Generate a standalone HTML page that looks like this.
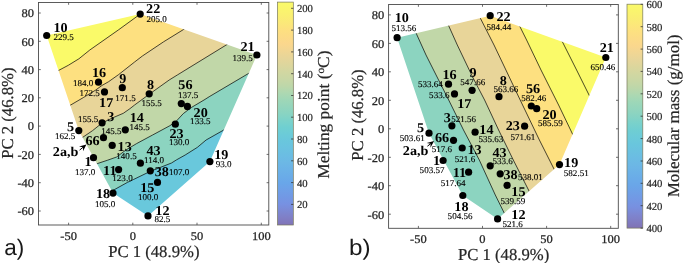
<!DOCTYPE html>
<html lang="en"><head><meta charset="utf-8"><title>PCA contour plots</title>
<style>html,body{margin:0;padding:0;background:#fff}body{width:685px;height:263px;overflow:hidden}svg{display:block}</style>
</head><body>
<svg width="685" height="263" viewBox="0 0 685 263" font-family="'Liberation Serif', serif" fill="#000" text-rendering="geometricPrecision">
<rect width="685" height="263" fill="#fff"/>
<defs></defs>
<rect x="0" y="0" width="343" height="263" fill="#fafa69"/>
<polygon points="172.6,-9.4 140.2,14.1 118.3,30.0 89.8,50.0 78.9,58.8 68.3,65.3 58.3,70.6 23.0,89.3 23.0,600.0 900.0,600.0 900.0,-9.4" fill="#fde080"/>
<polygon points="218.2,8.1 184.2,29.1 163.6,41.8 142.4,56.0 134.6,62.0 118.6,74.6 108.6,81.7 101.9,85.5 95.3,90.3 83.3,97.6 70.0,105.4 35.5,125.6 35.5,600.0 900.0,600.0 900.0,8.1" fill="#e8d599"/>
<polygon points="261.3,23.5 227.2,44.4 177.3,75.0 169.2,80.0 149.3,94.2 134.6,105.0 129.9,108.7 123.3,113.3 113.9,117.3 102.2,122.9 92.6,130.6 82.6,137.4 49.5,159.9 49.5,600.0 900.0,600.0 900.0,23.5" fill="#c1d7a8"/>
<polygon points="283.2,52.9 248.8,73.3 209.9,96.3 204.0,100.0 191.2,107.6 183.3,113.6 175.9,121.6 169.9,125.7 152.6,135.0 136.6,143.6 125.9,150.0 116.6,157.0 107.3,160.3 97.3,163.6 59.3,176.1 59.3,600.0 900.0,600.0 900.0,52.9" fill="#8cd4c0"/>
<polygon points="258.4,110.4 223.6,130.1 206.1,140.0 197.3,147.4 185.2,155.0 176.6,159.8 171.5,163.0 150.4,171.3 133.3,179.6 127.6,182.3 114.6,189.5 111.8,191.0 76.5,209.9 76.5,600.0 900.0,600.0 900.0,110.4" fill="#69c8dc"/>
<polyline points="172.6,-9.4 140.2,14.1 118.3,30.0 89.8,50.0 78.9,58.8 68.3,65.3 58.3,70.6 23.0,89.3" fill="none" stroke="#000" stroke-width="0.7"/>
<polyline points="218.2,8.1 184.2,29.1 163.6,41.8 142.4,56.0 134.6,62.0 118.6,74.6 108.6,81.7 101.9,85.5 95.3,90.3 83.3,97.6 70.0,105.4 35.5,125.6" fill="none" stroke="#000" stroke-width="0.7"/>
<polyline points="261.3,23.5 227.2,44.4 177.3,75.0 169.2,80.0 149.3,94.2 134.6,105.0 129.9,108.7 123.3,113.3 113.9,117.3 102.2,122.9 92.6,130.6 82.6,137.4 49.5,159.9" fill="none" stroke="#000" stroke-width="0.7"/>
<polyline points="283.2,52.9 248.8,73.3 209.9,96.3 204.0,100.0 191.2,107.6 183.3,113.6 175.9,121.6 169.9,125.7 152.6,135.0 136.6,143.6 125.9,150.0 116.6,157.0 107.3,160.3 97.3,163.6 59.3,176.1" fill="none" stroke="#000" stroke-width="0.7"/>
<polyline points="258.4,110.4 223.6,130.1 206.1,140.0 197.3,147.4 185.2,155.0 176.6,159.8 171.5,163.0 150.4,171.3 133.3,179.6 127.6,182.3 114.6,189.5 111.8,191.0 76.5,209.9" fill="none" stroke="#000" stroke-width="0.7"/>
<path d="M0 0H343V263H0ZM46.7 35.5L140.2 14.1L256.9 55.0L209.9 161.6L148.0 215.9L113.0 193.1L78.8 130.6Z" fill="#fff" fill-rule="evenodd"/>
<rect x="38.5" y="2.5" width="230.3" height="222.5" fill="none" stroke="#4a4a4a" stroke-width="0.9"/>
<path d="M68.6 225.0v-2.3M68.6 2.5v2.3M132.8 225.0v-2.3M132.8 2.5v2.3M197.0 225.0v-2.3M197.0 2.5v2.3M261.3 225.0v-2.3M261.3 2.5v2.3M38.5 13.0h2.3M268.9 13.0h-2.3M38.5 41.3h2.3M268.9 41.3h-2.3M38.5 69.6h2.3M268.9 69.6h-2.3M38.5 97.8h2.3M268.9 97.8h-2.3M38.5 126.1h2.3M268.9 126.1h-2.3M38.5 154.4h2.3M268.9 154.4h-2.3M38.5 182.7h2.3M268.9 182.7h-2.3M38.5 211.0h2.3M268.9 211.0h-2.3" stroke="#4a4a4a" stroke-width="0.8" fill="none"/>
<text transform="translate(68.6,240.0) scale(1.06,1)" text-anchor="middle" font-size="11.8" fill="#262626" stroke="#262626" stroke-width="0.25">-50</text>
<text transform="translate(132.8,240.0) scale(1.06,1)" text-anchor="middle" font-size="11.8" fill="#262626" stroke="#262626" stroke-width="0.25">0</text>
<text transform="translate(197.0,240.0) scale(1.06,1)" text-anchor="middle" font-size="11.8" fill="#262626" stroke="#262626" stroke-width="0.25">50</text>
<text transform="translate(261.3,240.0) scale(1.06,1)" text-anchor="middle" font-size="11.8" fill="#262626" stroke="#262626" stroke-width="0.25">100</text>
<text transform="translate(34.1,17.3) scale(1.06,1)" text-anchor="end" font-size="11.8" fill="#262626" stroke="#262626" stroke-width="0.25">80</text>
<text transform="translate(34.1,45.6) scale(1.06,1)" text-anchor="end" font-size="11.8" fill="#262626" stroke="#262626" stroke-width="0.25">60</text>
<text transform="translate(34.1,73.9) scale(1.06,1)" text-anchor="end" font-size="11.8" fill="#262626" stroke="#262626" stroke-width="0.25">40</text>
<text transform="translate(34.1,102.1) scale(1.06,1)" text-anchor="end" font-size="11.8" fill="#262626" stroke="#262626" stroke-width="0.25">20</text>
<text transform="translate(34.1,130.4) scale(1.06,1)" text-anchor="end" font-size="11.8" fill="#262626" stroke="#262626" stroke-width="0.25">0</text>
<text transform="translate(34.1,158.7) scale(1.06,1)" text-anchor="end" font-size="11.8" fill="#262626" stroke="#262626" stroke-width="0.25">-20</text>
<text transform="translate(34.1,187.0) scale(1.06,1)" text-anchor="end" font-size="11.8" fill="#262626" stroke="#262626" stroke-width="0.25">-40</text>
<text transform="translate(34.1,215.3) scale(1.06,1)" text-anchor="end" font-size="11.8" fill="#262626" stroke="#262626" stroke-width="0.25">-60</text>
<circle cx="46.7" cy="35.5" r="3.6"/>
<circle cx="140.2" cy="14.1" r="3.6"/>
<circle cx="256.9" cy="55.0" r="3.6"/>
<circle cx="98.5" cy="82.2" r="3.6"/>
<circle cx="104.5" cy="91.9" r="3.6"/>
<circle cx="122.3" cy="87.7" r="3.6"/>
<circle cx="149.2" cy="93.8" r="3.6"/>
<circle cx="181.3" cy="103.6" r="3.6"/>
<circle cx="187.4" cy="106.4" r="3.6"/>
<circle cx="78.8" cy="130.6" r="3.6"/>
<circle cx="102.1" cy="122.8" r="3.6"/>
<circle cx="125.3" cy="129.8" r="3.6"/>
<circle cx="103.5" cy="137.7" r="3.6"/>
<circle cx="112.2" cy="145.4" r="3.6"/>
<circle cx="175.3" cy="124.2" r="3.6"/>
<circle cx="93.5" cy="157.7" r="3.6"/>
<circle cx="118.6" cy="169.6" r="3.6"/>
<circle cx="140.4" cy="163.2" r="3.6"/>
<circle cx="150.3" cy="170.8" r="3.6"/>
<circle cx="157.5" cy="182.4" r="3.6"/>
<circle cx="209.9" cy="161.6" r="3.6"/>
<circle cx="113.0" cy="193.1" r="3.6"/>
<circle cx="148.0" cy="215.9" r="3.6"/>
<g font-weight="bold" font-size="13.5">
<text transform="translate(53.4,31.8) scale(1.050,1)">10</text>
<text transform="translate(146.1,13.1) scale(1.050,1)">22</text>
<text transform="translate(240.5,51.2) scale(1.050,1)">21</text>
<text transform="translate(92.0,77.2) scale(1.050,1)">16</text>
<text transform="translate(99.1,107.2) scale(1.050,1)">17</text>
<text transform="translate(119.2,82.8) scale(1.050,1)">9</text>
<text transform="translate(147.0,88.9) scale(1.050,1)">8</text>
<text transform="translate(178.3,89.3) scale(1.050,1)">56</text>
<text transform="translate(193.6,117.0) scale(1.050,1)">20</text>
<text transform="translate(169.4,137.9) scale(1.050,1)">23</text>
<text transform="translate(107.2,121.4) scale(1.050,1)">3</text>
<text transform="translate(129.7,121.8) scale(1.050,1)">14</text>
<text transform="translate(66.9,130.8) scale(1.050,1)">5</text>
<text transform="translate(85.4,145.0) scale(1.050,1)">66</text>
<text transform="translate(117.6,150.5) scale(1.050,1)">13</text>
<text transform="translate(52.8,156.1) scale(1.050,1)">2a,b</text>
<text transform="translate(84.4,166.4) scale(1.050,1)">1</text>
<text transform="translate(103.1,174.6) scale(1.050,1)">11</text>
<text transform="translate(146.4,155.1) scale(1.050,1)">43</text>
<text transform="translate(154.7,176.3) scale(1.050,1)">38</text>
<text transform="translate(140.2,192.1) scale(1.050,1)">15</text>
<text transform="translate(214.2,159.0) scale(1.050,1)">19</text>
<text transform="translate(95.9,198.1) scale(1.050,1)">18</text>
<text transform="translate(155.3,214.8) scale(1.050,1)">12</text>
</g><g font-size="8.9" stroke="#000" stroke-width="0.12">
<text transform="translate(53.5,40.3) scale(1.020,1)">229.5</text>
<text transform="translate(146.4,21.8) scale(1.020,1)">205.0</text>
<text transform="translate(232.4,60.5) scale(1.020,1)">139.5</text>
<text transform="translate(73.0,85.7) scale(1.020,1)">184.0</text>
<text transform="translate(79.5,95.9) scale(1.020,1)">172.5</text>
<text transform="translate(115.3,101.1) scale(1.020,1)">171.5</text>
<text transform="translate(141.5,106.1) scale(1.020,1)">155.5</text>
<text transform="translate(178.0,97.9) scale(1.020,1)">137.5</text>
<text transform="translate(190.1,124.3) scale(1.020,1)">133.5</text>
<text transform="translate(168.9,145.3) scale(1.020,1)">130.0</text>
<text transform="translate(78.0,121.9) scale(1.020,1)">155.5</text>
<text transform="translate(129.4,129.8) scale(1.020,1)">145.5</text>
<text transform="translate(54.9,139.3) scale(1.020,1)">162.5</text>
<text transform="translate(101.2,134.0) scale(1.020,1)">145.5</text>
<text transform="translate(116.3,158.8) scale(1.020,1)">140.5</text>
<text transform="translate(75.0,174.7) scale(1.020,1)">137.0</text>
<text transform="translate(112.3,180.7) scale(1.020,1)">123.0</text>
<text transform="translate(144.1,162.9) scale(1.020,1)">114.0</text>
<text transform="translate(168.9,175.3) scale(1.020,1)">107.0</text>
<text transform="translate(137.9,199.6) scale(1.020,1)">100.0</text>
<text transform="translate(215.7,166.9) scale(1.020,1)">93.0</text>
<text transform="translate(95.0,206.8) scale(1.020,1)">105.0</text>
<text transform="translate(154.4,222.4) scale(1.020,1)">82.5</text>
</g>
<path d="M79.6 150.1L83.0 147.3" stroke="#000" stroke-width="1"/><polygon points="86.4,144.5 83.0,151.3 83.0,147.3 79.0,146.6"/>
<linearGradient id="ga" x1="0" y1="0" x2="0" y2="1"><stop offset="0.0000" stop-color="#fafa69"/><stop offset="0.0312" stop-color="#faf56d"/><stop offset="0.0625" stop-color="#faef72"/><stop offset="0.0938" stop-color="#fbe879"/><stop offset="0.1250" stop-color="#fde080"/><stop offset="0.1562" stop-color="#fcdb86"/><stop offset="0.1875" stop-color="#fbd78d"/><stop offset="0.2188" stop-color="#f1d693"/><stop offset="0.2500" stop-color="#e7d599"/><stop offset="0.2812" stop-color="#ddd69d"/><stop offset="0.3125" stop-color="#d2d7a1"/><stop offset="0.3438" stop-color="#c9d7a5"/><stop offset="0.3750" stop-color="#bed7a9"/><stop offset="0.4062" stop-color="#aed8b1"/><stop offset="0.4375" stop-color="#9fd7b7"/><stop offset="0.4688" stop-color="#94d5bc"/><stop offset="0.5000" stop-color="#89d4c2"/><stop offset="0.5312" stop-color="#7bd2ca"/><stop offset="0.5625" stop-color="#6fcfd1"/><stop offset="0.5938" stop-color="#6bcbd8"/><stop offset="0.6250" stop-color="#69c6dd"/><stop offset="0.6562" stop-color="#6ac2e0"/><stop offset="0.6875" stop-color="#6bbde3"/><stop offset="0.7188" stop-color="#6cb8e5"/><stop offset="0.7500" stop-color="#6bb2e7"/><stop offset="0.7812" stop-color="#6aace8"/><stop offset="0.8125" stop-color="#69a6e9"/><stop offset="0.8438" stop-color="#6e9fe7"/><stop offset="0.8750" stop-color="#7298e4"/><stop offset="0.9062" stop-color="#7791e2"/><stop offset="0.9375" stop-color="#7c88d3"/><stop offset="0.9688" stop-color="#807ec5"/><stop offset="1.0000" stop-color="#8074b7"/></linearGradient>
<rect x="277.5" y="2.1" width="15.8" height="222.9" fill="url(#ga)" stroke="#77775a" stroke-width="0.7"/>
<path d="M293.3 8.3h-2.2M293.3 30.1h-2.2M293.3 51.9h-2.2M293.3 73.7h-2.2M293.3 95.5h-2.2M293.3 117.2h-2.2M293.3 139.0h-2.2M293.3 160.8h-2.2M293.3 182.6h-2.2M293.3 204.4h-2.2" stroke="#333" stroke-width="0.8" fill="none"/>
<text x="296.9" y="12.2" font-size="10.7" fill="#262626" stroke="#262626" stroke-width="0.2">200</text>
<text x="296.9" y="34.0" font-size="10.7" fill="#262626" stroke="#262626" stroke-width="0.2">180</text>
<text x="296.9" y="55.8" font-size="10.7" fill="#262626" stroke="#262626" stroke-width="0.2">160</text>
<text x="296.9" y="77.6" font-size="10.7" fill="#262626" stroke="#262626" stroke-width="0.2">140</text>
<text x="296.9" y="99.4" font-size="10.7" fill="#262626" stroke="#262626" stroke-width="0.2">120</text>
<text x="296.9" y="121.1" font-size="10.7" fill="#262626" stroke="#262626" stroke-width="0.2">100</text>
<text x="296.9" y="142.9" font-size="10.7" fill="#262626" stroke="#262626" stroke-width="0.2">80</text>
<text x="296.9" y="164.7" font-size="10.7" fill="#262626" stroke="#262626" stroke-width="0.2">60</text>
<text x="296.9" y="186.5" font-size="10.7" fill="#262626" stroke="#262626" stroke-width="0.2">40</text>
<text x="296.9" y="208.3" font-size="10.7" fill="#262626" stroke="#262626" stroke-width="0.2">20</text>
<rect x="343" y="0" width="342" height="263" fill="#8cd4c0"/>
<polygon points="399.5,-3.5 416.0,32.9 426.0,55.0 438.6,80.0 448.7,100.0 463.5,130.0 479.3,160.0 495.3,195.0 504.3,213.2 522.0,249.1 1200.0,249.1 1200.0,-3.5" fill="#c1d7a8"/>
<polygon points="432.2,-10.9 448.6,25.6 457.3,45.0 472.6,77.0 484.6,100.0 498.6,130.0 513.3,160.0 529.2,191.3 547.3,227.0 1200.0,227.0 1200.0,-10.9" fill="#e8d599"/>
<polygon points="462.2,-17.3 480.4,18.3 494.0,45.0 520.2,100.0 539.4,140.0 554.1,169.2 572.1,204.9 1200.0,204.9 1200.0,-17.3" fill="#fde080"/>
<polygon points="502.0,-9.2 519.9,26.6 526.6,40.0 541.0,70.0 558.6,105.0 572.6,134.2 589.9,170.3 1200.0,170.3 1200.0,-9.2" fill="#fafa69"/>
<polygon points="544.3,5.9 562.3,41.6 576.6,70.0 589.2,95.3 607.0,131.1 1200.0,131.1 1200.0,5.9" fill="#fafa69"/>
<polyline points="399.5,-3.5 416.0,32.9 426.0,55.0 438.6,80.0 448.7,100.0 463.5,130.0 479.3,160.0 495.3,195.0 504.3,213.2 522.0,249.1" fill="none" stroke="#000" stroke-width="0.7"/>
<polyline points="432.2,-10.9 448.6,25.6 457.3,45.0 472.6,77.0 484.6,100.0 498.6,130.0 513.3,160.0 529.2,191.3 547.3,227.0" fill="none" stroke="#000" stroke-width="0.7"/>
<polyline points="462.2,-17.3 480.4,18.3 494.0,45.0 520.2,100.0 539.4,140.0 554.1,169.2 572.1,204.9" fill="none" stroke="#000" stroke-width="0.7"/>
<polyline points="502.0,-9.2 519.9,26.6 526.6,40.0 541.0,70.0 558.6,105.0 572.6,134.2 589.9,170.3" fill="none" stroke="#000" stroke-width="0.7"/>
<polyline points="544.3,5.9 562.3,41.6 576.6,70.0 589.2,95.3 607.0,131.1" fill="none" stroke="#000" stroke-width="0.7"/>
<path d="M343 0H685V263H343ZM397.1 37.7L490.2 15.7L605.8 57.5L559.5 164.6L497.6 218.9L462.8 195.5L429.0 133.2Z" fill="#fff" fill-rule="evenodd"/>
<rect x="388.6" y="4.5" width="229.7" height="223.8" fill="none" stroke="#4a4a4a" stroke-width="0.9"/>
<path d="M418.4 228.2v-2.3M418.4 4.5v2.3M482.5 228.2v-2.3M482.5 4.5v2.3M546.6 228.2v-2.3M546.6 4.5v2.3M610.7 228.2v-2.3M610.7 4.5v2.3M388.6 14.9h2.3M618.3 14.9h-2.3M388.6 43.4h2.3M618.3 43.4h-2.3M388.6 71.8h2.3M618.3 71.8h-2.3M388.6 100.3h2.3M618.3 100.3h-2.3M388.6 128.8h2.3M618.3 128.8h-2.3M388.6 157.3h2.3M618.3 157.3h-2.3M388.6 185.7h2.3M618.3 185.7h-2.3M388.6 214.2h2.3M618.3 214.2h-2.3" stroke="#4a4a4a" stroke-width="0.8" fill="none"/>
<text transform="translate(418.4,243.2) scale(1.06,1)" text-anchor="middle" font-size="11.8" fill="#262626" stroke="#262626" stroke-width="0.25">-50</text>
<text transform="translate(482.5,243.2) scale(1.06,1)" text-anchor="middle" font-size="11.8" fill="#262626" stroke="#262626" stroke-width="0.25">0</text>
<text transform="translate(546.6,243.2) scale(1.06,1)" text-anchor="middle" font-size="11.8" fill="#262626" stroke="#262626" stroke-width="0.25">50</text>
<text transform="translate(610.7,243.2) scale(1.06,1)" text-anchor="middle" font-size="11.8" fill="#262626" stroke="#262626" stroke-width="0.25">100</text>
<text transform="translate(384.2,19.2) scale(1.06,1)" text-anchor="end" font-size="11.8" fill="#262626" stroke="#262626" stroke-width="0.25">80</text>
<text transform="translate(384.2,47.7) scale(1.06,1)" text-anchor="end" font-size="11.8" fill="#262626" stroke="#262626" stroke-width="0.25">60</text>
<text transform="translate(384.2,76.1) scale(1.06,1)" text-anchor="end" font-size="11.8" fill="#262626" stroke="#262626" stroke-width="0.25">40</text>
<text transform="translate(384.2,104.6) scale(1.06,1)" text-anchor="end" font-size="11.8" fill="#262626" stroke="#262626" stroke-width="0.25">20</text>
<text transform="translate(384.2,133.1) scale(1.06,1)" text-anchor="end" font-size="11.8" fill="#262626" stroke="#262626" stroke-width="0.25">0</text>
<text transform="translate(384.2,161.6) scale(1.06,1)" text-anchor="end" font-size="11.8" fill="#262626" stroke="#262626" stroke-width="0.25">-20</text>
<text transform="translate(384.2,190.0) scale(1.06,1)" text-anchor="end" font-size="11.8" fill="#262626" stroke="#262626" stroke-width="0.25">-40</text>
<text transform="translate(384.2,218.5) scale(1.06,1)" text-anchor="end" font-size="11.8" fill="#262626" stroke="#262626" stroke-width="0.25">-60</text>
<circle cx="397.1" cy="37.7" r="3.6"/>
<circle cx="490.2" cy="15.7" r="3.6"/>
<circle cx="605.8" cy="57.5" r="3.6"/>
<circle cx="448.5" cy="84.2" r="3.6"/>
<circle cx="454.5" cy="93.9" r="3.6"/>
<circle cx="472.1" cy="90.3" r="3.6"/>
<circle cx="499.0" cy="96.7" r="3.6"/>
<circle cx="531.3" cy="106.0" r="3.6"/>
<circle cx="536.7" cy="108.7" r="3.6"/>
<circle cx="429.0" cy="133.2" r="3.6"/>
<circle cx="451.9" cy="125.8" r="3.6"/>
<circle cx="475.1" cy="132.2" r="3.6"/>
<circle cx="453.5" cy="140.3" r="3.6"/>
<circle cx="462.2" cy="148.0" r="3.6"/>
<circle cx="524.6" cy="126.2" r="3.6"/>
<circle cx="443.1" cy="160.5" r="3.6"/>
<circle cx="468.6" cy="172.2" r="3.6"/>
<circle cx="490.2" cy="165.8" r="3.6"/>
<circle cx="500.2" cy="173.8" r="3.6"/>
<circle cx="507.1" cy="185.3" r="3.6"/>
<circle cx="559.5" cy="164.6" r="3.6"/>
<circle cx="462.8" cy="195.5" r="3.6"/>
<circle cx="497.6" cy="218.9" r="3.6"/>
<g font-weight="bold" font-size="13.5">
<text transform="translate(394.7,22.2) scale(1.050,1)">10</text>
<text transform="translate(496.4,20.5) scale(1.050,1)">22</text>
<text transform="translate(599.7,52.4) scale(1.050,1)">21</text>
<text transform="translate(442.5,78.9) scale(1.050,1)">16</text>
<text transform="translate(457.2,108.2) scale(1.050,1)">17</text>
<text transform="translate(469.6,77.2) scale(1.050,1)">9</text>
<text transform="translate(499.8,85.0) scale(1.050,1)">8</text>
<text transform="translate(525.9,93.4) scale(1.050,1)">56</text>
<text transform="translate(542.4,118.6) scale(1.050,1)">20</text>
<text transform="translate(505.7,129.7) scale(1.050,1)">23</text>
<text transform="translate(443.7,121.9) scale(1.050,1)">3</text>
<text transform="translate(479.3,133.9) scale(1.050,1)">14</text>
<text transform="translate(416.9,132.4) scale(1.050,1)">5</text>
<text transform="translate(435.0,142.0) scale(1.050,1)">66</text>
<text transform="translate(467.4,153.5) scale(1.050,1)">13</text>
<text transform="translate(402.8,155.4) scale(1.050,1)">2a,b</text>
<text transform="translate(433.0,164.7) scale(1.050,1)">1</text>
<text transform="translate(452.7,177.3) scale(1.050,1)">11</text>
<text transform="translate(492.4,156.5) scale(1.050,1)">43</text>
<text transform="translate(503.4,178.8) scale(1.050,1)">38</text>
<text transform="translate(511.3,195.8) scale(1.050,1)">15</text>
<text transform="translate(564.1,167.3) scale(1.050,1)">19</text>
<text transform="translate(454.3,210.7) scale(1.050,1)">18</text>
<text transform="translate(511.3,219.4) scale(1.050,1)">12</text>
</g><g font-size="8.9" stroke="#000" stroke-width="0.12">
<text transform="translate(391.4,31.2) scale(1.020,1)">513.56</text>
<text transform="translate(486.5,30.2) scale(1.020,1)">584.44</text>
<text transform="translate(590.4,70.2) scale(1.020,1)">650.46</text>
<text transform="translate(418.0,86.9) scale(1.020,1)">533.64</text>
<text transform="translate(429.1,97.6) scale(1.020,1)">533.6</text>
<text transform="translate(460.3,85.2) scale(1.020,1)">547.66</text>
<text transform="translate(493.4,92.4) scale(1.020,1)">563.66</text>
<text transform="translate(521.3,101.4) scale(1.020,1)">582.46</text>
<text transform="translate(538.0,126.2) scale(1.020,1)">585.59</text>
<text transform="translate(510.4,139.9) scale(1.020,1)">571.61</text>
<text transform="translate(451.2,122.2) scale(1.020,1)">521.56</text>
<text transform="translate(399.8,140.7) scale(1.020,1)">503.61</text>
<text transform="translate(478.4,141.9) scale(1.020,1)">535.63</text>
<text transform="translate(431.7,152.1) scale(1.020,1)">517.6</text>
<text transform="translate(454.8,162.2) scale(1.020,1)">521.6</text>
<text transform="translate(419.6,172.7) scale(1.020,1)">503.57</text>
<text transform="translate(440.7,185.9) scale(1.020,1)">517.64</text>
<text transform="translate(492.5,164.2) scale(1.020,1)">533.6</text>
<text transform="translate(517.9,179.9) scale(1.020,1)">538.01</text>
<text transform="translate(500.4,204.2) scale(1.020,1)">539.59</text>
<text transform="translate(563.8,175.9) scale(1.020,1)">582.51</text>
<text transform="translate(447.6,219.0) scale(1.020,1)">504.56</text>
<text transform="translate(502.4,227.3) scale(1.020,1)">521.6</text>
</g>
<path d="M427.4 146.2L430.6 143.8" stroke="#000" stroke-width="1"/><polygon points="434.1,141.1 430.4,147.8 430.6,143.8 426.7,142.9"/>
<linearGradient id="gb" x1="0" y1="0" x2="0" y2="1"><stop offset="0.0000" stop-color="#fafa69"/><stop offset="0.0312" stop-color="#faf46e"/><stop offset="0.0625" stop-color="#faee73"/><stop offset="0.0938" stop-color="#fce77a"/><stop offset="0.1250" stop-color="#fde081"/><stop offset="0.1562" stop-color="#fcdb87"/><stop offset="0.1875" stop-color="#fad78d"/><stop offset="0.2188" stop-color="#f0d694"/><stop offset="0.2500" stop-color="#e6d59a"/><stop offset="0.2812" stop-color="#dbd69d"/><stop offset="0.3125" stop-color="#d1d7a1"/><stop offset="0.3438" stop-color="#c8d7a5"/><stop offset="0.3750" stop-color="#bcd7aa"/><stop offset="0.4062" stop-color="#acd8b2"/><stop offset="0.4375" stop-color="#9dd7b8"/><stop offset="0.4688" stop-color="#93d5bd"/><stop offset="0.5000" stop-color="#87d3c3"/><stop offset="0.5312" stop-color="#79d1cb"/><stop offset="0.5625" stop-color="#6fced2"/><stop offset="0.5938" stop-color="#6bcad9"/><stop offset="0.6250" stop-color="#69c6dd"/><stop offset="0.6562" stop-color="#6ac1e0"/><stop offset="0.6875" stop-color="#6bbce3"/><stop offset="0.7188" stop-color="#6cb7e5"/><stop offset="0.7500" stop-color="#6bb1e7"/><stop offset="0.7812" stop-color="#6aabe8"/><stop offset="0.8125" stop-color="#6aa5e8"/><stop offset="0.8438" stop-color="#6f9ee6"/><stop offset="0.8750" stop-color="#7397e4"/><stop offset="0.9062" stop-color="#7890e0"/><stop offset="0.9375" stop-color="#7d86d1"/><stop offset="0.9688" stop-color="#807dc3"/><stop offset="1.0000" stop-color="#8072b4"/></linearGradient>
<rect x="627.0" y="4.2" width="15.8" height="223.9" fill="url(#gb)" stroke="#77775a" stroke-width="0.7"/>
<path d="M642.8 4.3h-2.2M642.8 26.7h-2.2M642.8 49.1h-2.2M642.8 71.4h-2.2M642.8 93.8h-2.2M642.8 116.2h-2.2M642.8 138.6h-2.2M642.8 161.0h-2.2M642.8 183.3h-2.2M642.8 205.7h-2.2M642.8 228.1h-2.2" stroke="#333" stroke-width="0.8" fill="none"/>
<text x="646.4" y="8.2" font-size="10.7" fill="#262626" stroke="#262626" stroke-width="0.2">600</text>
<text x="646.4" y="30.6" font-size="10.7" fill="#262626" stroke="#262626" stroke-width="0.2">580</text>
<text x="646.4" y="53.0" font-size="10.7" fill="#262626" stroke="#262626" stroke-width="0.2">560</text>
<text x="646.4" y="75.3" font-size="10.7" fill="#262626" stroke="#262626" stroke-width="0.2">540</text>
<text x="646.4" y="97.7" font-size="10.7" fill="#262626" stroke="#262626" stroke-width="0.2">520</text>
<text x="646.4" y="120.1" font-size="10.7" fill="#262626" stroke="#262626" stroke-width="0.2">500</text>
<text x="646.4" y="142.5" font-size="10.7" fill="#262626" stroke="#262626" stroke-width="0.2">480</text>
<text x="646.4" y="164.9" font-size="10.7" fill="#262626" stroke="#262626" stroke-width="0.2">460</text>
<text x="646.4" y="187.2" font-size="10.7" fill="#262626" stroke="#262626" stroke-width="0.2">440</text>
<text x="646.4" y="209.6" font-size="10.7" fill="#262626" stroke="#262626" stroke-width="0.2">420</text>
<text x="646.4" y="232.0" font-size="10.7" fill="#262626" stroke="#262626" stroke-width="0.2">400</text>
<g font-size="16.7" fill="#262626" stroke="#262626" stroke-width="0.2">
<text x="153.8" y="257.4" text-anchor="middle">PC 1 (48.9%)</text>
<text x="503.6" y="259.6" text-anchor="middle">PC 1 (48.9%)</text>
<text transform="translate(13.2,113.2) rotate(-90)" text-anchor="middle">PC 2 (46.8%)</text>
<text transform="translate(362.8,115) rotate(-90)" text-anchor="middle">PC 2 (46.8%)</text>
<text transform="translate(329.4,114.6) rotate(-90) scale(1.04,1)" text-anchor="middle">Melting point (<tspan font-size="11" dy="-5">o</tspan><tspan dy="5">C)</tspan></text>
<text transform="translate(678.6,115.9) rotate(-90) scale(1.015,1)" text-anchor="middle">Molecular mass (g/mol)</text>
</g>
<g font-family="'Liberation Sans', sans-serif" font-size="22.5" fill="#1a1a1a">
<text x="4.2" y="254.7">a)</text>
<text transform="translate(349.0,254.7) scale(1.08,1)">b)</text>
</g>
</svg>
</body></html>
